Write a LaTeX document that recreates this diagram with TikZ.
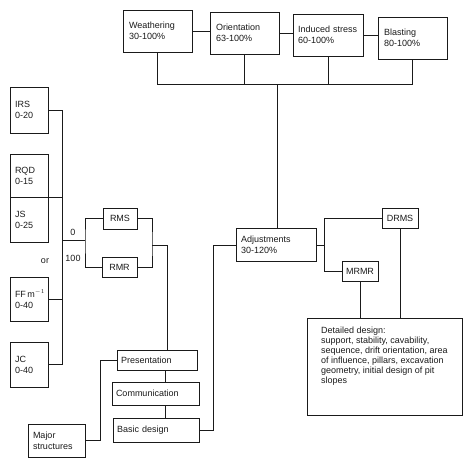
\documentclass[tikz,border=0pt]{standalone}
\usepackage{fontspec}
\setmainfont{Liberation Sans}
\usepackage{xcolor}
\usepackage{tikz}
\usetikzlibrary{calc}
\definecolor{ink}{HTML}{1A1A1A}
\tikzset{
  box/.style={draw=ink, line width=0.9pt, align=left, inner sep=0pt, text=ink,
    font=\fontsize{9}{11}\selectfont},
  wire/.style={draw=ink, line width=0.9pt},
  lab/.style={text=ink, font=\fontsize{9}{11}\selectfont},
  note/.style={text=ink, align=left, font=\fontsize{9}{10}\selectfont},
}

\begin{document}
\begin{tikzpicture}[x=1pt, y=-1pt]
  \useasboundingbox (0,0) rectangle (474,469);

  % adjustment factors along the top
  \node[box, minimum width=69pt, minimum height=42pt, text width=57pt] (wea) at (157.5,31) {Weathering\\30-100\%};
  \node[box, minimum width=69pt, minimum height=42pt, text width=57pt] (ori) at (244.5,33) {Orientation\\63-100\%};
  \node[box, minimum width=70pt, minimum height=42pt, text width=60pt] (ind) at (328,35) {Induced stress\\60-100\%};
  \node[box, minimum width=69pt, minimum height=42pt, text width=57pt] (bla) at (412.5,38) {Blasting\\80-100\%};
  \draw[wire] (wea.east) -- (ori.west |- wea.east);
  \draw[wire] (ori.east) -- (ind.west |- ori.east);
  \draw[wire] (ind.east) -- (bla.west |- ind.east);

  \coordinate (bus) at (277,84);
  \draw[wire] (wea.south) -- (wea.south |- bus) -- (bla.south |- bus) -- (bla.south);
  \draw[wire] (ori.south) -- (ori.south |- bus);
  \draw[wire] (ind.south) -- (ind.south |- bus);

  % rating parameters on the left
  \node[box, minimum width=38pt, minimum height=46pt, text width=28pt] (irs) at (29,110) {IRS\\0-20};
  \node[box, minimum width=38pt, minimum height=43pt, text width=28pt] (rqd) at (29,175.5) {RQD\\0-15};
  \node[box, minimum width=38pt, minimum height=45pt, text width=28pt] (js) at (29,219.5) {JS\\0-25};
  \node[lab] (or) at (45,261) {or};
  \node[box, minimum width=38pt, minimum height=44pt, text width=28pt] (ff) at (29,299) {FF\,m$^{-1}$\\0-40};
  \node[box, minimum width=38pt, minimum height=45pt, text width=28pt] (jc) at (29,364.5) {JC\\0-40};

  \coordinate (jn) at (62,240);
  \draw[wire] (irs.east) -- (irs.east -| jn) -- (jc.east -| jn) -- (jc.east);
  \draw[wire] (rqd.south east) -- (rqd.south east -| jn);
  \draw[wire] (ff.east) -- (ff.east -| jn);

  \node[lab] (zero) at (73,232) {0};
  \node[lab] (hund) at (73,258) {100};

  \node[box, minimum width=34pt, minimum height=21pt] (rms) at (120,218.5) {RMS};
  \node[box, minimum width=35pt, minimum height=20pt] (rmr) at (119.5,267) {RMR};
  \coordinate (split) at (85,240);
  \coordinate (merge) at (152,245);
  \coordinate (drop) at (167,245);
  \draw[wire] (jn) -- (split);
  \draw[wire] (rms.west) -| (split) |- (rmr.west);
  \draw[wire] (rms.east) -| (merge) |- (rmr.east);

  % design stages
  \node[box, minimum width=80pt, minimum height=20pt, text width=72pt] (pres) at (157,360) {Presentation};
  \node[box, minimum width=87pt, minimum height=23pt, text width=79pt] (comm) at (155.5,393.5) {Communication};
  \node[box, minimum width=86pt, minimum height=24pt, text width=78pt] (basic) at (156,430) {Basic design};
  \node[box, minimum width=57pt, minimum height=33pt, text width=47pt] (maj) at (56.5,440.5) {Major\\structures};

  \coordinate (stem) at (165,400);
  \draw[wire] (merge) -- (drop) -- (drop |- pres.north);
  \draw[wire] (pres.south -| stem) -- (comm.north -| stem);
  \draw[wire] (comm.south -| stem) -- (basic.north -| stem);
  \draw[wire] (maj.east) -- ++(15,0) |- (pres.west);

  % adjustments and mining rock mass rating
  \node[box, minimum width=80pt, minimum height=33pt, text width=70pt] (adj) at (276,245) {Adjustments\\30-120\%};
  \draw[wire] (bus) -- (bus |- adj.north);
  \draw[wire] (basic.east) -- ++(14,0) |- (adj.west);

  \node[box, minimum width=36pt, minimum height=20pt] (drms) at (400,218) {DRMS};
  \node[box, minimum width=36pt, minimum height=20pt] (mrmr) at (360,271) {MRMR};
  \draw[wire] (adj.east) -- ++(8,0) coordinate (fork);
  \draw[wire] (drms.west) -| (fork) |- (mrmr.west);

  \node[box, minimum width=155pt, minimum height=97pt] (det) at (384.5,366.5) {};
  \node[note, anchor=north west] (dettext) at ($(det.north west)+(11,6)$)
    {Detailed design:\\support, stability, cavability,\\sequence, drift orientation, area\\of influence, pillars, excavation\\geometry, initial design of pit\\slopes};
  \draw[wire] (drms.south) -- (drms.south |- det.north);
  \draw[wire] (mrmr.south) -- (mrmr.south |- det.north);
\end{tikzpicture}
\end{document}
